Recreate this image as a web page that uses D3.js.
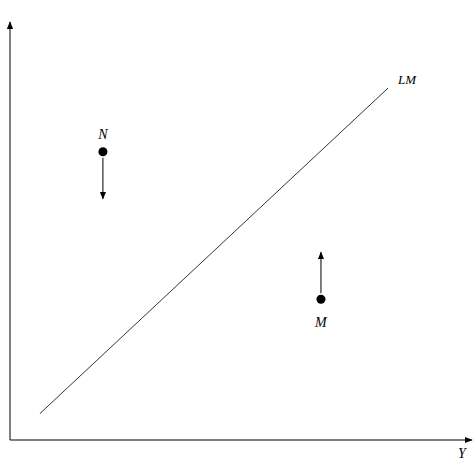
<!DOCTYPE html>
<html><head><script src="https://cdn.jsdelivr.net/npm/d3@7"></script>
<style>body{margin:0;background:#fff}</style></head><body>
<script>
// data (model units)
const lmLine = [[0.065,0.06],[0.822,0.8]];
const points = [{name:"N",x:0.202,y:0.655,dir:-1},{name:"M",x:0.676,y:0.32,dir:1}];
const axisLabels = {x:"Y", curve:"LM"};

const W=474,H=474;
const svg=d3.select("body").append("svg").attr("width",W).attr("height",H);
const x=d3.scaleLinear().domain([0,1]).range([10,470]);
const y=d3.scaleLinear().domain([0,1]).range([440,0]);
const defs=svg.append("defs");
defs.append("marker").attr("id","ar").attr("viewBox","0 0 10 10").attr("refX",9).attr("refY",5)
 .attr("markerWidth",8).attr("markerHeight",8).attr("orient","auto-start-reverse")
 .append("path").attr("d","M0,1L10,5L0,9Z").attr("fill","#000");
const font="Liberation Serif";
svg.append("line").attr("x1",x(0)).attr("y1",y(0)).attr("x2",x(0)).attr("y2",22).attr("stroke","#000").attr("marker-end","url(#ar)");
svg.append("line").attr("x1",x(0)).attr("y1",y(0)).attr("x2",472).attr("y2",y(0)).attr("stroke","#000").attr("marker-end","url(#ar)");
svg.append("text").attr("x",462).attr("y",458).attr("font-family",font).attr("font-style","italic").attr("font-size",14).attr("text-anchor","middle").text(axisLabels.x);
svg.append("line").attr("x1",x(lmLine[0][0])).attr("y1",y(lmLine[0][1])).attr("x2",x(lmLine[1][0])).attr("y2",y(lmLine[1][1])).attr("stroke","#000").attr("stroke-width",0.8);
svg.append("text").attr("x",x(lmLine[1][0])+19).attr("y",y(lmLine[1][1])-4).attr("font-family",font).attr("font-style","italic").attr("font-size",13).attr("text-anchor","middle").text(axisLabels.curve);
points.forEach(p=>{
  const cx=x(p.x),cy=y(p.y);
  svg.append("circle").attr("cx",cx).attr("cy",cy).attr("r",4.5).attr("fill","#000");
  svg.append("line").attr("x1",cx).attr("y1",cy-p.dir*6).attr("x2",cx).attr("y2",cy-p.dir*47).attr("stroke","#000").attr("marker-end","url(#ar)");
  svg.append("text").attr("x",cx).attr("y",p.dir<0?cy-13:cy+28).attr("font-family",font).attr("font-style","italic").attr("font-size",14).attr("text-anchor","middle").text(p.name);
});
</script></body></html>
